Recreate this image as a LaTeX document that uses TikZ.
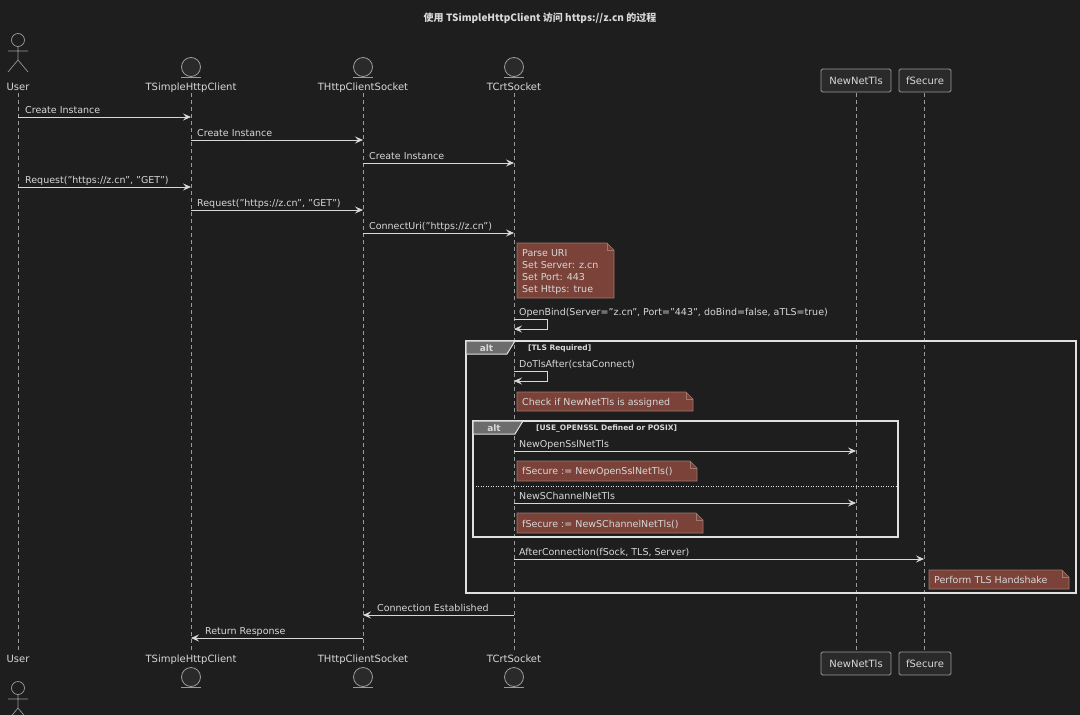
\documentclass[tikz,border=0pt]{standalone}
\usepackage{fontspec}
\setmainfont{DejaVu Sans}
\newfontfamily\cjk{Noto Sans CJK SC}
\usetikzlibrary{arrows.meta,calc}
\definecolor{bg}{HTML}{1E1E1E}
\definecolor{fg}{HTML}{D8D8D8}
\definecolor{ln}{HTML}{9A9A9A}
\definecolor{notef}{HTML}{7A4238}
\definecolor{noted}{HTML}{A0786E}
\definecolor{boxf}{HTML}{2A2A2A}
\tikzset{
 lbl/.style={text=fg,font=\fontsize{9.5}{11.5}\selectfont,inner sep=0pt,anchor=base west},
 plbl/.style={text=fg,font=\fontsize{10}{12}\selectfont,inner sep=0pt,anchor=base},
 msg/.style={draw=fg,line width=0.8pt,-{Stealth[length=8pt,width=7pt,inset=3pt]}},
 life/.style={draw=ln,dashed,dash pattern=on 4pt off 3pt,line width=0.6pt},
 note/.style={fill=notef,draw=noted,line width=0.6pt},
 frame/.style={draw=fg!80,line width=1.2pt},
 cond/.style={text=fg,font=\bfseries\fontsize{7.5}{9}\selectfont,inner sep=0pt,anchor=base west},
}
\newcommand{\notebox}[4]{\path[note] (#1,#2) -- ({#3-7},#2) -- (#3,{#2+7}) -- (#3,#4) -- (#1,#4) -- cycle;
 \draw[draw=noted,line width=0.6pt] ({#3-7},#2) -- ({#3-7},{#2+7}) -- (#3,{#2+7});}
\newcommand{\altab}[3]{\path[fill=ln!70!black,draw=fg!80,line width=1pt] (#1,#2) -- (#3,#2) -- ({#3-8},{#2+13}) -- (#1,{#2+13}) -- cycle;
 \node[text=fg,font=\bfseries\fontsize{9}{10}\selectfont,inner sep=0pt,anchor=base] at ({(#1+#3)/2-4},{#2+10}) {alt};}
\newcommand{\actor}[3]{\draw[ln,line width=0.7pt] (#2,{#3}) circle (6.5);
 \draw[ln,line width=0.7pt] (#2,{#3+6.5}) -- (#2,{#3+20}) ({#2-10},{#3+11}) -- ({#2+10},{#3+11}) ({#2-10},{#3+32}) -- (#2,{#3+20}) -- ({#2+10},{#3+32});}
\newcommand{\entity}[2]{\draw[ln,fill=boxf,line width=0.8pt] (#1,#2) circle (9.5); \draw[ln,line width=0.8pt] ({#1-10},{#2+10.5}) -- ({#1+10},{#2+10.5});}
\begin{document}
\begin{tikzpicture}[x=1pt,y=-1pt]
\fill[bg] (0,0) rectangle (1080,715);
\useasboundingbox (0,0) rectangle (1080,715);
\node[text=fg,font=\cjk\bfseries\fontsize{10}{12}\selectfont,inner sep=0pt] (title) at (540,18) {使用 TSimpleHttpClient 访问 https://z.cn 的过程};
% lifelines
\foreach \n/\x in {u/18,c/191,h/363,t/514,n/856,f/924}{
 \coordinate (\n) at (\x,93); \coordinate (\n b) at (\x,650);
 \draw[life] (\n) -- (\n b);}
% heads
\actor{ua}{18}{40}
\actor{ub}{18}{688}
\node[plbl] (uh) at (18,90) {User}; \node[plbl] (uf) at (18,662) {User};
\foreach \x/\t in {191/TSimpleHttpClient,363/THttpClientSocket,514/TCrtSocket}{
 \entity{\x}{67}\entity{\x}{677}
 \node[plbl] at (\x,90) {\t}; \node[plbl] at (\x,662) {\t};}
\foreach \x/\w/\t in {856/35/NewNetTls,925/26/fSecure}{
 \draw[ln,fill=boxf,rounded corners=1.5pt,line width=0.8pt] ({\x-\w},69) rectangle ({\x+\w},92);
 \draw[ln,fill=boxf,rounded corners=1.5pt,line width=0.8pt] ({\x-\w},652) rectangle ({\x+\w},675);
 \node[plbl] at (\x,84.5) {\t}; \node[plbl] at (\x,667.5) {\t};}
% messages
\draw[msg] (u|-0,117) -- (c|-0,117); \node[lbl] at (25,113) {Create Instance};
\draw[msg] (c|-0,140) -- (h|-0,140); \node[lbl] at (197,136) {Create Instance};
\draw[msg] (h|-0,163) -- (t|-0,163); \node[lbl] at (369,159) {Create Instance};
\draw[msg] (u|-0,187) -- (c|-0,187); \node[lbl] at (25,183) {Request("https://z.cn", "GET")};
\draw[msg] (c|-0,210) -- (h|-0,210); \node[lbl] at (197,206) {Request("https://z.cn", "GET")};
\draw[msg] (h|-0,233) -- (t|-0,233); \node[lbl] at (369,229) {ConnectUri("https://z.cn")};
\notebox{517}{243}{614}{298}
\node[lbl] at (522,256) {Parse URI}; \node[lbl] at (522,268) {Set Server: z.cn};
\node[lbl] at (522,280) {Set Port: 443}; \node[lbl] at (522,292) {Set Https: true};
\node[lbl] at (519,315) {OpenBind(Server="z.cn", Port="443", doBind=false, aTLS=true)};
\draw[msg] (t|-0,319) -- (547,319) -- (547,329) -- (t|-0,329);
% outer alt
\draw[frame] (466,341) rectangle (1076,593);
\altab{466}{341}{515}
\node[cond] at (528,350) {[TLS Required]};
\node[lbl] at (519,367) {DoTlsAfter(cstaConnect)};
\draw[msg] (t|-0,371) -- (547,371) -- (547,381) -- (t|-0,381);
\notebox{517}{392}{693}{411}
\node[lbl] at (522,405) {Check if NewNetTls is assigned};
% inner alt
\draw[frame] (473,421) rectangle (898,537);
\altab{473}{421}{523}
\node[cond] at (536,430) {[USE\_OPENSSL Defined or POSIX]};
\node[lbl] at (519,447) {NewOpenSslNetTls};
\draw[msg] (t|-0,451) -- (n|-0,451);
\notebox{517}{461}{697}{481}
\node[lbl] at (522,474) {fSecure := NewOpenSslNetTls()};
\draw[fg!80,line width=0.6pt,dash pattern=on 1pt off 1.5pt] (473,486) -- (898,486);
\node[lbl] at (519,499) {NewSChannelNetTls};
\draw[msg] (t|-0,503) -- (n|-0,503);
\notebox{517}{513}{703}{533}
\node[lbl] at (522,527) {fSecure := NewSChannelNetTls()};
\node[lbl] at (519,555) {AfterConnection(fSock, TLS, Server)};
\draw[msg] (t|-0,559) -- (f|-0,559);
\notebox{929}{570}{1069}{589}
\node[lbl] at (934,583) {Perform TLS Handshake};
\draw[msg] (t|-0,615) -- (h|-0,615); \node[lbl] at (377,611) {Connection Established};
\draw[msg] (h|-0,638) -- (c|-0,638); \node[lbl] at (205,634) {Return Response};
\end{tikzpicture}
\end{document}
